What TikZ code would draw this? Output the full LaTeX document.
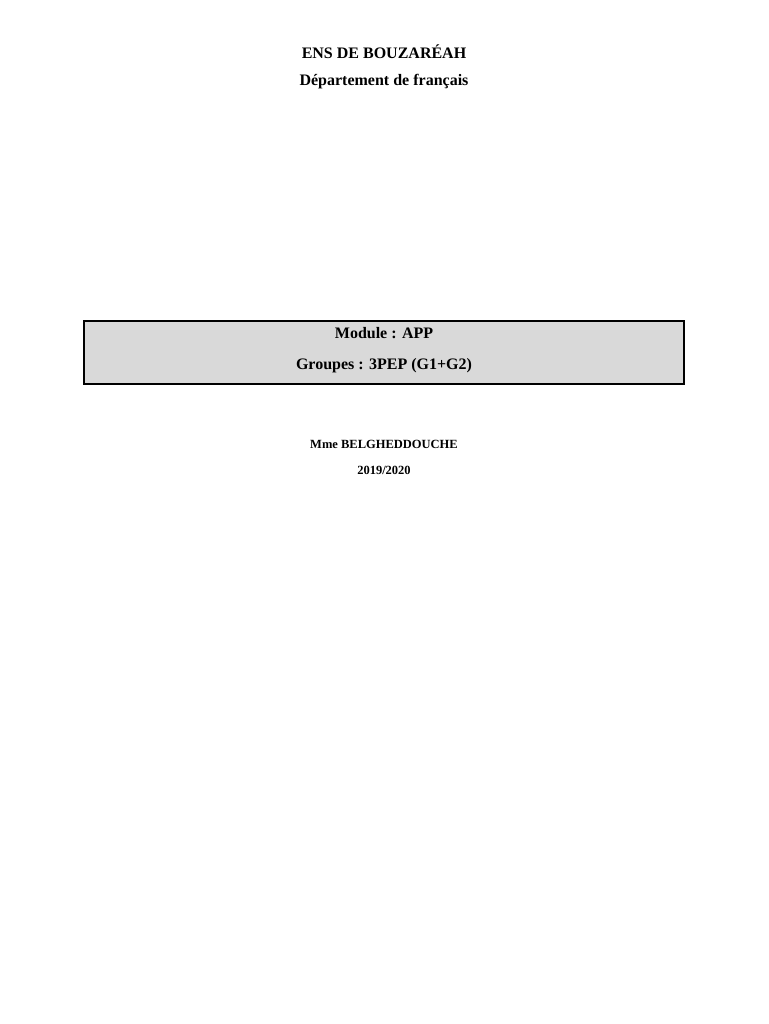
\documentclass[tikz,border=0pt]{standalone}
\usepackage{fontspec}
\setmainfont{Liberation Serif}
\begin{document}
\begin{tikzpicture}[x=1pt,y=-1pt,
  big/.style={font=\bfseries\fontsize{16}{19}\selectfont, inner sep=0pt},
  small/.style={font=\bfseries\fontsize{12.5}{15}\selectfont, inner sep=0pt}]
\useasboundingbox[fill=white] (0,0) rectangle (768,1024);
\node[big] (ens) at (384,52) {ENS DE BOUZARÉAH};
\node[big] (dep) at (384,82) {Département de français};
\draw[line width=1.8pt, fill={rgb,255:red,217;green,217;blue,217}] (84,321) rectangle (684,384);
\node[big] (mod) at (384,333) {Module : APP};
\node[big] (grp) at (384,366) {Groupes : 3PEP (G1+G2)};
\node[small] (mme) at (384,444) {Mme BELGHEDDOUCHE};
\node[small] (yr) at (384,470) {2019/2020};
\end{tikzpicture}
\end{document}
